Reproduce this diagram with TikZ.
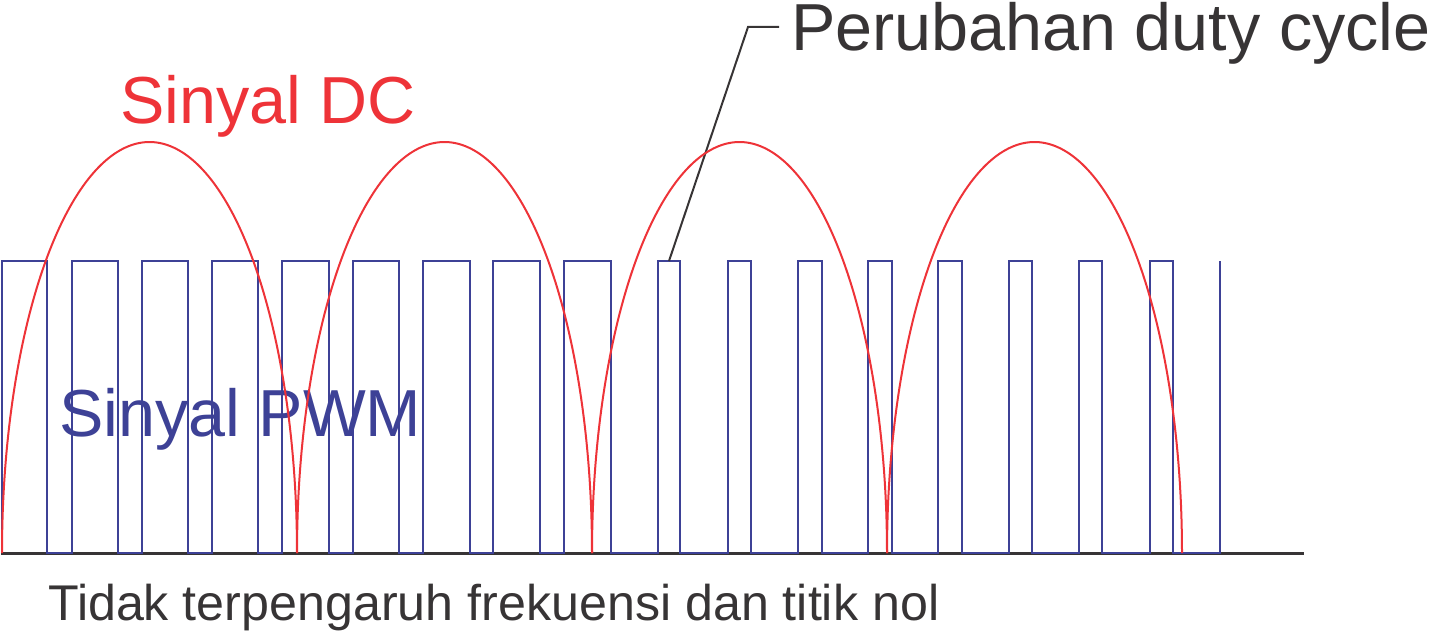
\documentclass[tikz,border=0pt]{standalone}
\usepackage{fontspec}
\setmainfont{Liberation Sans}
\definecolor{dcred}{HTML}{EE3338}
\definecolor{pwmblue}{HTML}{3D4196}
\definecolor{txtgray}{HTML}{373435}
\begin{document}
\begin{tikzpicture}[x=1pt,y=-1pt,
  pwm/.style={draw=pwmblue,line width=2pt,line join=miter},
  dcwave/.style={draw=dcred,line width=2pt},
  axisline/.style={draw=txtgray,line width=3pt},
  pointer/.style={draw=txtgray,line width=2pt},
  biglabel/.style={inner sep=0pt,anchor=base west,font=\fontsize{66.5}{72}\selectfont},
  smalllabel/.style={inner sep=0pt,anchor=base west,font=\fontsize{50.2}{56}\selectfont,text=txtgray}]
\useasboundingbox (0,0) rectangle (1432,631);
% baseline
\coordinate (a0) at (1,553);
\coordinate (a1) at (1304,553);
\draw[axisline] (a0) -- (a1);
% PWM waveform
\draw[pwm] (2,553)
  \foreach \r/\f/\n in {2/47/72,72/118/142,142/188/212,212/258/282,282/329/353,353/399/423,423/470/493,493/540/564,564/611/658,658/680/728,728/751/798,798/822/868,868/892/938,938/962/1009,1009/1032/1079,1079/1102/1150,1150/1173/1220}
  { -- (\r,261) -- (\f,261) -- (\f,553) -- (\n,553) } -- (1220,261);
% labels
\node[biglabel,text=dcred] (dc) at (120,124) {Sinyal DC};
\node[biglabel,text=pwmblue] (pwmlbl) at (59,436) {Sinyal PWM};
\node[biglabel,text=txtgray] (duty) at (791,50.5) {Perubahan duty cycle};
\node[smalllabel] (note) at (48,620) {Tidak terpengaruh frekuensi dan titik nol};
% pointer
\coordinate (p0) at (669,261);
\coordinate (p1) at (748,27);
\coordinate (p2) at (779,27);
\draw[pointer] (p0) -- (p1) -- (p2);
% DC arcs
\foreach \c in {149.5,444.5,739.5,1034.5}{
  \draw[dcwave] plot[domain=0:180,samples=150,smooth] ({\c+147.5*cos(\x)},{553-411*sin(\x)});
}
\end{tikzpicture}
\end{document}
